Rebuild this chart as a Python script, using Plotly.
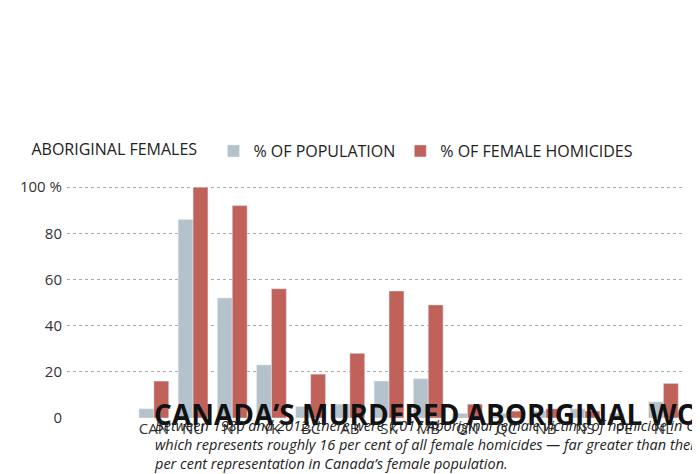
import plotly.graph_objects as go

categories = ["CAN","NU","NT","YK","BC","AB","SK","MB","ON","QC","NB","NS","PE","NL"]
pct_population = [4,86,52,23,5,6,16,17,2,2,3,4,2,7]
pct_homicides = [16,100,92,56,19,28,55,49,6,3,4,3,0,15]
ytick_vals = [0,20,40,60,80,100]
ytick_text = ["0","20","40","60","80","100 %"]

F = "Open Sans"
L, R, T, B = 52, 25, 178, 64
PW, PH = 700 - L - R, 474 - T - B
def px(x): return (x - L) / PW
def py(y): return (474 - B - y) / PH

fig = go.Figure()
fig.add_bar(x=categories, y=pct_population, name="% OF POPULATION", marker_color="#b4c2cb")
fig.add_bar(x=categories, y=pct_homicides, name="% OF FEMALE HOMICIDES", marker_color="#c0625a")
fig.update_layout(
    width=700, height=474, plot_bgcolor="white", paper_bgcolor="white",
    margin=dict(l=L, r=R, t=T, b=B),
    barmode="group", bargap=0.24, bargroupgap=0,
    font=dict(family=F, color="#333", size=15),
    showlegend=True,
    legend=dict(orientation="h", x=px(14), y=py(143), xanchor="left", yanchor="middle",
                font=dict(size=16, color="#222"),
                title=dict(text="ABORIGINAL FEMALES  ", font=dict(size=16, color="#222"))),
    xaxis=dict(showgrid=False, ticks="", tickfont=dict(size=15), showline=False),
    yaxis=dict(range=[0,100.5], tickvals=ytick_vals, ticktext=ytick_text, showgrid=True,
               gridcolor="#aaa", griddash="dot", gridwidth=1, zeroline=False, ticks="",
               tickfont=dict(size=15), ticklabelstandoff=4),
)
fig.add_annotation(text="<b>CANADA’S MURDERED ABORIGINAL WOMEN</b>", x=px(18), y=py(35),
                   xanchor="left", yanchor="middle", showarrow=False,
                   font=dict(size=28, color="#111", family="Liberation Sans Narrow, Open Sans"))
fig.add_annotation(text="<i>Between 1980 and 2012, there were 1,017 Aboriginal female victims of homicide in Canada,<br>which represents roughly 16 per cent of all female homicides — far greater than their four<br>per cent representation in Canada’s female population.</i>",
                   x=px(18), y=py(56), xanchor="left", yanchor="top", align="left",
                   showarrow=False, font=dict(size=14.5, color="#222"))
fig.add_annotation(text="SOURCE: RCMP; STATISTICS CANADA", x=px(18), y=py(462),
                   xanchor="left", yanchor="middle", showarrow=False, font=dict(size=12, color="#555"))
fig.add_annotation(text="THE CANADIAN PRESS", x=px(690), y=py(462),
                   xanchor="right", yanchor="middle", showarrow=False, font=dict(size=12, color="#555"))
fig.write_html("out.html")
